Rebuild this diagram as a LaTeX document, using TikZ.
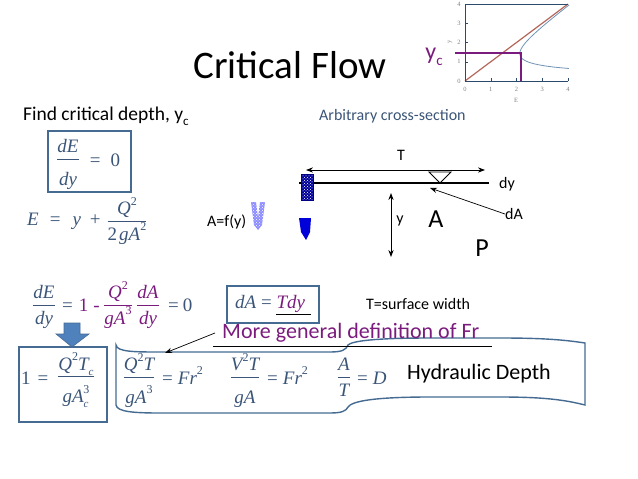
\documentclass[tikz,border=0pt]{standalone}
\usepackage{fontspec}
\usepackage{array}
\setmainfont{Carlito}
\newfontfamily\eqfont{Liberation Serif}
\usetikzlibrary{arrows.meta,patterns}
\definecolor{eqblue}{HTML}{3A5578}
\definecolor{boxblue}{HTML}{456B92}
\definecolor{darkpurple}{HTML}{7B1B7E}
\definecolor{chartred}{HTML}{B5665A}
\definecolor{chartblue}{HTML}{6F93B5}
\definecolor{chartaxis}{HTML}{2B4A6B}
\definecolor{arrowblue}{HTML}{4F81BD}
\newcommand{\fr}[3][26]{{\renewcommand{\arraystretch}{0}\begin{tabular}{@{}>{\centering\arraybackslash}c@{}}\rule[-6pt]{0pt}{30pt}#2\\\hline\rule[\numexpr#1-30\relax pt]{0pt}{30pt}#3\end{tabular}}}
\newcommand{\up}[1]{\raisebox{.5em}{\fontsize{12}{12}\selectfont\upshape #1}}
\newcommand{\dn}[2][11]{\raisebox{-.25em}{\fontsize{#1}{#1}\selectfont #2}}
\tikzset{
  eq/.style={inner sep=0pt,text=eqblue,font=\eqfont\itshape\fontsize{19}{20}\selectfont},
  eqpurple/.style={eq,text=darkpurple},
  label/.style={inner sep=0pt,font=\fontsize{16}{18}\selectfont},
  bigl/.style={inner sep=0pt,font=\fontsize{26}{28}\selectfont},
  eqbox/.style={draw=boxblue,line width=1.3pt},
  tick/.style={inner sep=0pt,text=gray,font=\eqfont\fontsize{6.5}{7}\selectfont},
  dblarrow/.style={{Stealth[length=7pt]}-{Stealth[length=7pt]},line width=1pt},
  wave/.style={draw=boxblue,line width=1.4pt}
}
\begin{document}
\begin{tikzpicture}[x=1pt,y=-1pt]
  \useasboundingbox (0,0) rectangle (638,479);
  % heading
  \node (title) [inner sep=0pt,font=\fontsize{39}{41}\selectfont] at (290,65) {Critical Flow};
  \node (yc) [inner sep=0pt,text=darkpurple,font=\fontsize{24}{26}\selectfont] at (434,57) {y\dn[15]{c}};
  \node (find) [inner sep=0pt,anchor=west,font=\fontsize{19.5}{21}\selectfont] at (23,116) {Find critical depth, y\dn[13]{c}};
  \node (arb) [label,anchor=west,text=eqblue] at (319,116) {Arbitrary cross-section};

  % chart
  \coordinate (o) at (465,81);
  \coordinate (ex) at (568,81);
  \coordinate (ey) at (465,4);
  \coordinate (tr) at (568,4);
  \draw[chartred,line width=1.2pt] (o) -- (tr);
  \draw[chartblue,line width=.8pt,domain=.65:3.95,samples=50,smooth,variable=\t]
    plot ({465+25.75*(\t+1.43/(\t*\t))},{81-19.25*\t});
  \draw[darkpurple,line width=1.2pt] (455,53) -- (521,53) -- (521,81);
  \draw[chartaxis,line width=1pt] (tr) -- (ey) -- (o) -- (ex);
  \foreach \n in {0,...,4} {
    \node (xt\n) [tick] at ({465+25.75*\n},89) {\n};
    \node (yt\n) [tick] at (459,{81-19.25*\n}) {\n};
    \draw[chartaxis,line width=.5pt] ({465+25.75*\n},81) -- ({465+25.75*\n},78);
    \draw[chartaxis,line width=.5pt] (465,{81-19.25*\n}) -- (468,{81-19.25*\n});
  }
  \node (xname) [tick] at (516,100) {E};
  \node (yname) [tick,rotate=90] at (450,42) {y};

  % first equations
  \draw[eqbox] (48,131) rectangle (131,192);
  \node (e1) [eq] at (68,159) {\fr{dE}{dy}};
  \node (e1b) [eq] at (105,160) {\upshape =\hspace{10pt}0};
  \node (e2a) [eq,anchor=west] at (27,221) {E\hspace{11pt}\upshape=\hspace{12pt}\itshape y\hspace{9pt}\upshape+};
  \node (e2b) [eq] at (127,221) {\fr[19]{Q\up{2}}{\upshape 2\hspace{2pt}\itshape gA\up{2}}};

  % cross-section
  \coordinate (tl) at (306,170);
  \coordinate (tr2) at (485,170);
  \coordinate (wl) at (299,183);
  \coordinate (wr) at (489,183);
  \draw[dblarrow] (tl) -- (tr2);
  \node (t) [label] at (401,155) {T};
  \draw[line width=2.6pt] (wl) -- (wr);
  \draw[line width=.8pt,fill=white] (429,172) -- (451,172) -- (440,183) -- cycle;
  \fill[blue!60!black] (301,174) rectangle (313,200);
  \draw[draw=blue!50!black,pattern=crosshatch dots,pattern color=white] (301,174) rectangle (313,200);
  \coordinate (yt) at (391,193);
  \coordinate (yb) at (391,257);
  \draw[dblarrow] (yt) -- (yb);
  \node (y) [label] at (400,221) {y};
  \node (a) [bigl] at (436,219) {A};
  \node (p) [bigl] at (482,248) {P};
  \node (dy) [label] at (507,184) {dy};
  \node (da) [label] at (514,214) {dA};
  \coordinate (datip) at (430,188);
  \draw[-{Stealth[length=7pt]},line width=.7pt] (da.west) -- (datip);
  \node (af) [label,anchor=west] at (207,222) {A=f(y)};
  \fill[blue!45!white] (251,202) -- (256,202) -- (258,218) -- (260,202) -- (265,202) -- (262,225) -- (258,230) -- (254,225) -- cycle;
  \fill[pattern=crosshatch dots,pattern color=white]
    (251,202) -- (256,202) -- (258,218) -- (260,202) -- (265,202) -- (262,225) -- (258,230) -- (254,225) -- cycle;
  \fill[blue!85!black] (299,218) -- (311,218) -- (310,232) -- (306,240) -- (301,232) -- cycle;

  % second row
  \node (e3a) [eq] at (44,305) {\fr[19]{dE}{dy}};
  \node (e3b) [eqpurple,anchor=west] at (62,305) {\upshape\textcolor{eqblue}{=}\hspace{6pt}1\hspace{5pt}-};
  \node (e3c) [eqpurple] at (118,305) {\fr[19]{Q\up{2}}{gA\up{3}}};
  \node (e3d) [eqpurple] at (148,305) {\fr[19]{dA}{dy}};
  \node (e3e) [eq,anchor=west] at (168,305) {\upshape =\hspace{4pt}0};
  \draw[eqbox] (227,286) rectangle (319,323);
  \node (e4) [eq,anchor=west] at (235,304) {dA \upshape= \textcolor{darkpurple}{\itshape Tdy}};
  \draw[line width=.7pt] (276,314) -- (311,314);
  \node (sw) [label,anchor=west] at (366,304) {T=surface width};
  \draw[fill=arrowblue,draw=boxblue,line width=.6pt]
    (64,323) -- (80,323) -- (80,334) -- (89,334) -- (72,347) -- (56,334) -- (64,334) -- cycle;

  % lower row
  \draw[eqbox] (19,347) rectangle (107,422);
  \node (e5a) [eq,anchor=west] at (21,378) {\upshape 1\hspace{7pt}=};
  \node (e5b) [eq] at (76,377) {\fr{Q\up{2}T\dn{c}}{gA\dn{c}\hspace{-5pt}\up{3}}};

  \draw[wave] (116,345) .. controls (117,352) and (135,352) .. (160,352) -- (330,352)
    .. controls (342,352) and (346,350) .. (348,345) .. controls (352,341) and (375,338) .. (430,338) -- (500,338)
    .. controls (545,338) and (565,340) .. (585,343) -- (585,405)
    .. controls (565,400) and (545,397) .. (500,397) -- (430,397)
    .. controls (375,397) and (352,401) .. (348,407) .. controls (346,411) and (342,413) .. (330,413)
    -- (160,413) .. controls (135,413) and (117,412) .. (116,405) -- cycle;
  \node (e6a) [eq] at (139,377) {\fr{Q\up{2}T}{gA\up{3}}};
  \node (e6b) [eq,anchor=base west] at (162,384) {\upshape =\hspace{5pt}\itshape Fr\up{2}};
  \node (e7a) [eq] at (245,377) {\fr{V\up{2}T}{gA}};
  \node (e7b) [eq,anchor=base west] at (267,384) {\upshape =\hspace{5pt}\itshape Fr\up{2}};
  \node (e8a) [eq] at (344,377) {\fr[19]{A}{T}};
  \node (e8b) [eq,anchor=base west] at (357,384) {\upshape =\hspace{5pt}\itshape D};
  \node (hd) [inner sep=0pt,anchor=west,font=\fontsize{22}{24}\selectfont] at (407,374) {Hydraulic Depth};

  \node (more) [inner sep=0pt,anchor=west,text=darkpurple,font=\fontsize{22}{24}\selectfont] at (222,333) {More general definition of Fr};
  \draw[line width=.7pt] (213,346) -- (492,346);
  \coordinate (moretip) at (165,353);
  \draw[-{Stealth[length=7pt]},line width=.7pt] (more.west) ++(-7,0) -- (moretip);
\end{tikzpicture}
\end{document}
